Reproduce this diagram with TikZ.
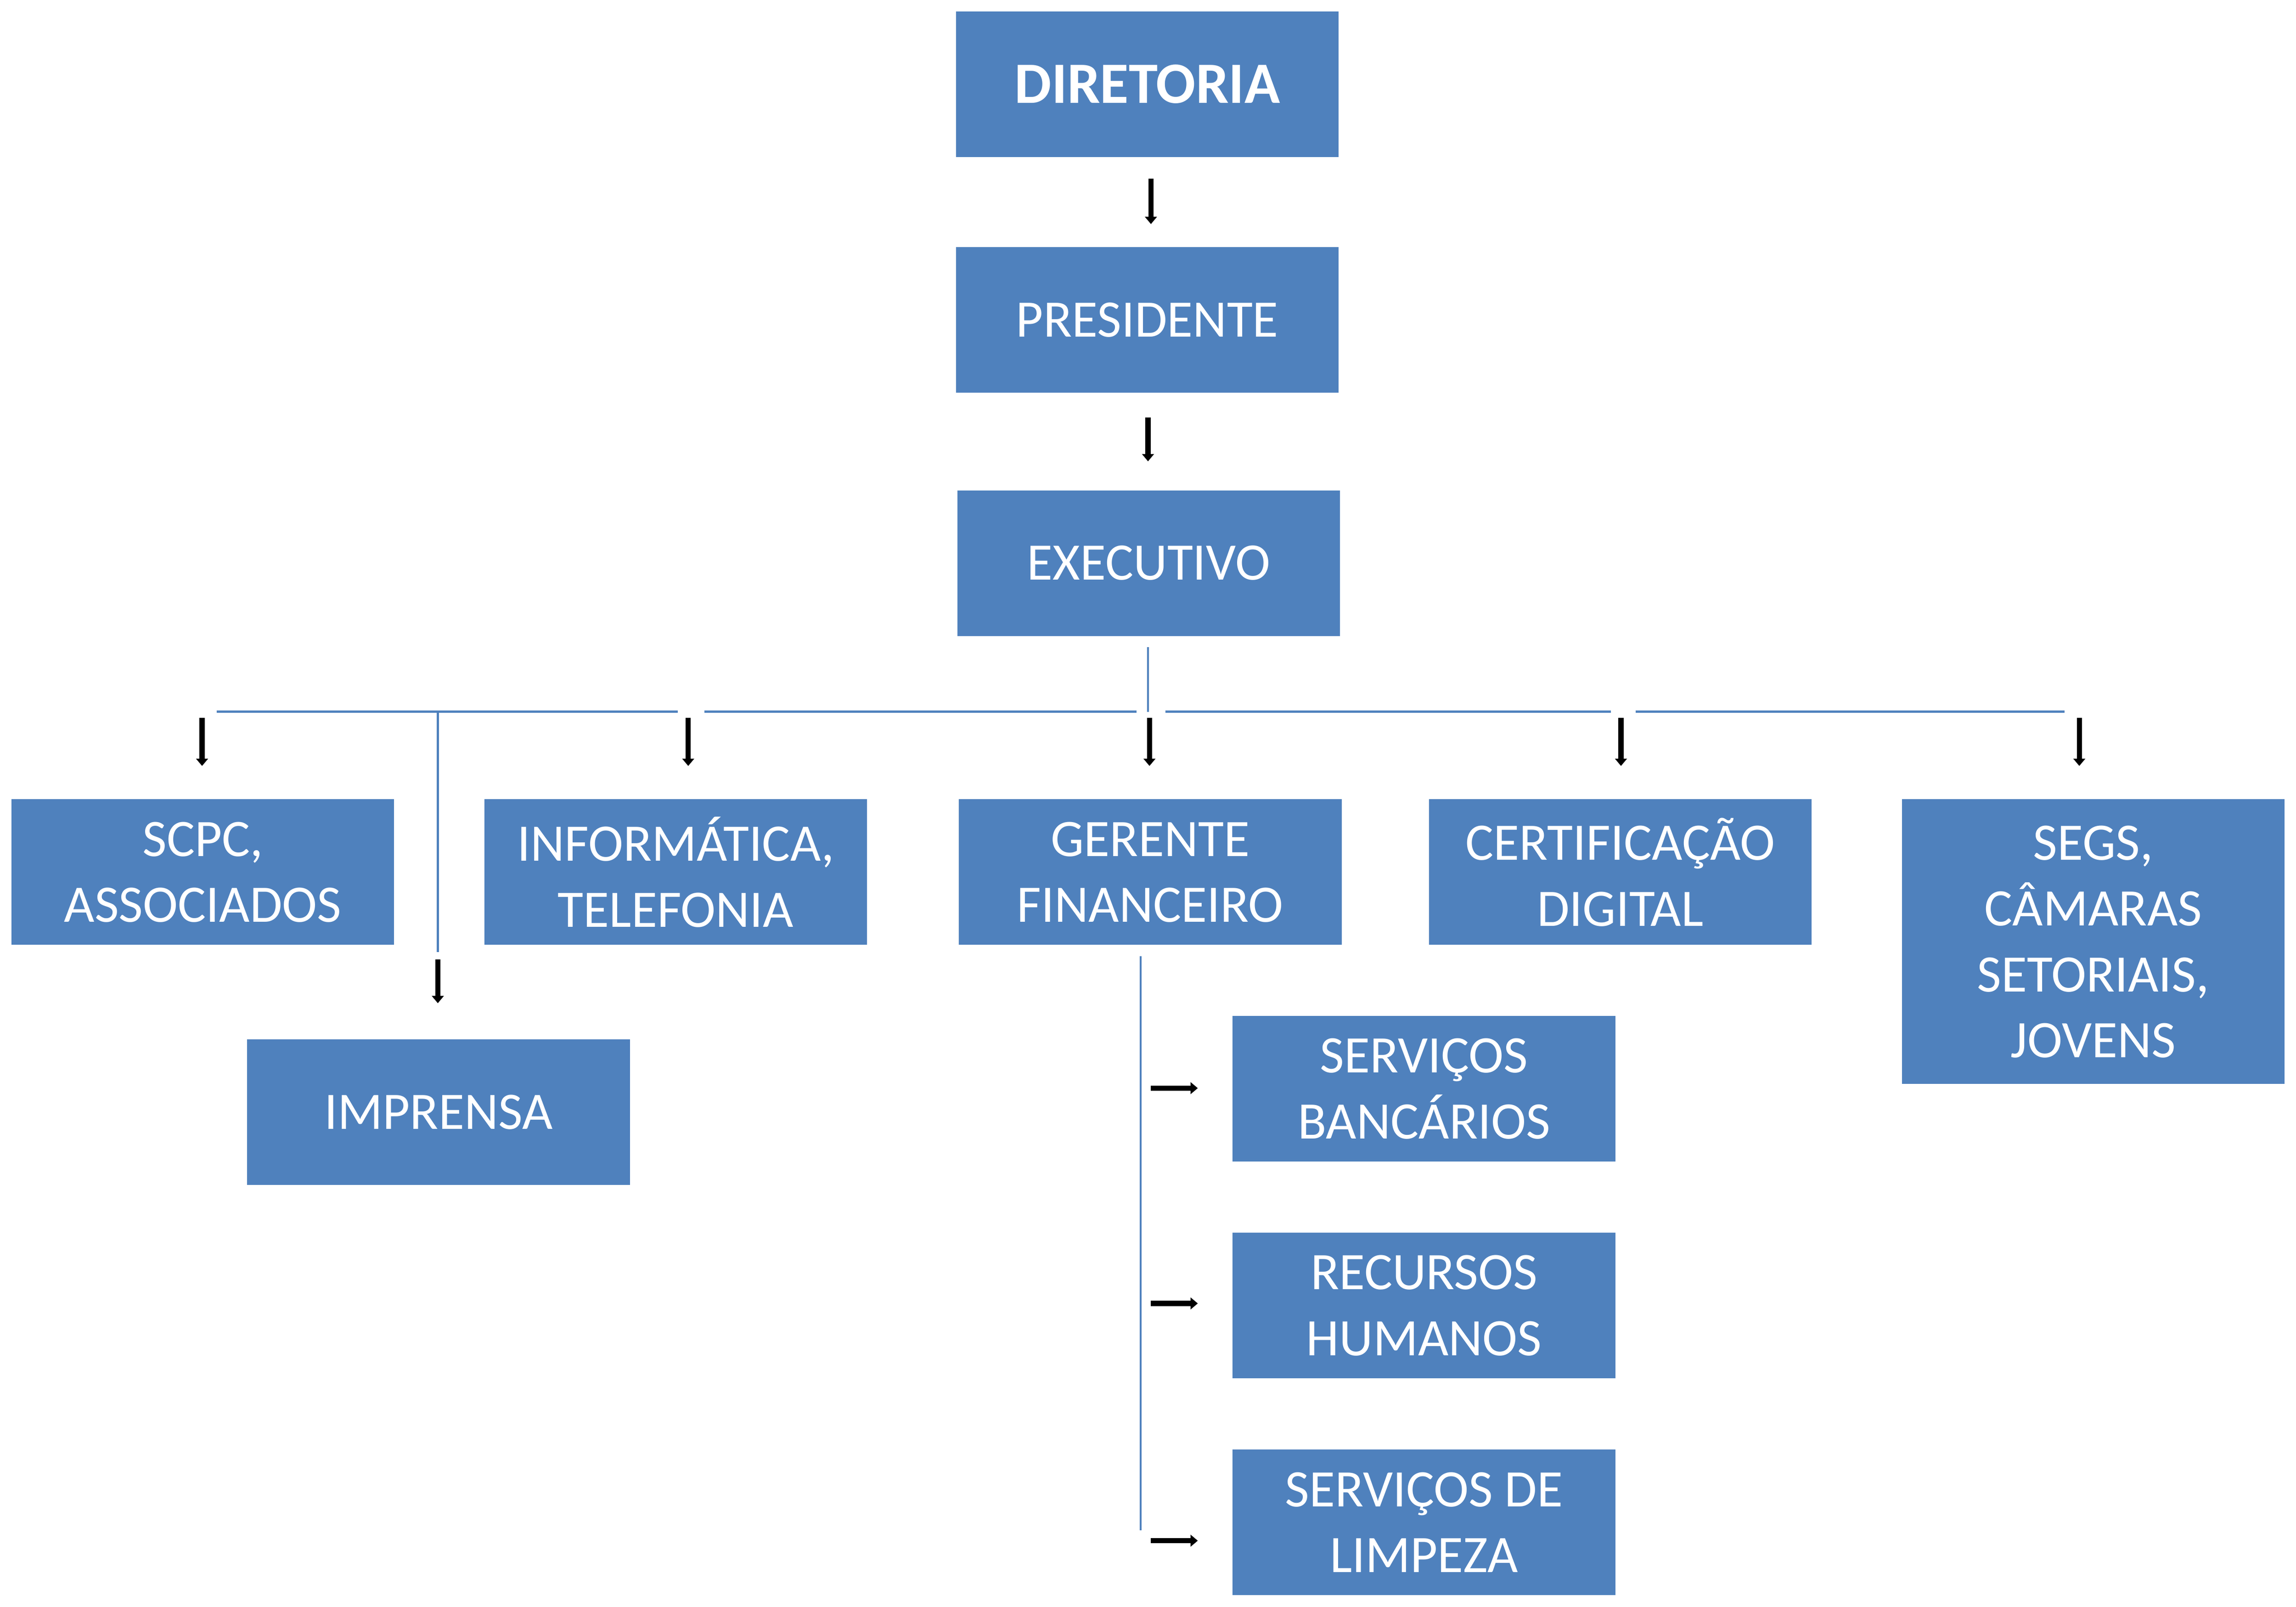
\documentclass[tikz,border=0pt]{standalone}
\usepackage{fontspec}
\setmainfont{Carlito}
\usetikzlibrary{arrows.meta,positioning}
\definecolor{boxblue}{RGB}{79,129,189}
\begin{document}
\begin{tikzpicture}[x=1pt,y=-1pt,
  box/.style={fill=boxblue,draw=boxblue,text=white,minimum width=261pt,minimum height=99pt,
    align=center,font=\fontsize{36}{45}\selectfont,inner sep=0pt},
  link/.style={draw=boxblue,line width=1.5pt},
  arr/.style={-{Triangle[length=5pt,width=8pt]},line width=3.5pt,black}]
  \useasboundingbox (0,0) rectangle (1568,1097);
  \node[box,font=\fontsize{40}{45}\selectfont\bfseries] (dir) at (783.5,57.5) {DIRETORIA};
  \node[box] (pres) at (783.5,218.5) {PRESIDENTE};
  \node[box] (exe) at (784.5,384.5) {EXECUTIVO};
  \node[box] (scpc) at (138.5,595.5) {SCPC,\\ASSOCIADOS};
  \node[box] (info) at (461.5,595.5) {INFORMÁTICA,\\TELEFONIA};
  \node[box] (ger) at (785.5,595.5) {GERENTE\\FINANCEIRO};
  \node[box] (cert) at (1106.5,595.5) {CERTIFICAÇÃO\\DIGITAL};
  \node[box,minimum height=194pt] (segs) at (1429.5,643) {SEGS,\\CÂMARAS\\SETORIAIS,\\JOVENS};
  \node[box] (impr) at (299.5,759.5) {IMPRENSA};
  \node[box] (banc) at (972.5,743.5) {SERVIÇOS\\BANCÁRIOS};
  \node[box] (rh) at (972.5,891.5) {RECURSOS\\HUMANOS};
  \node[box] (limp) at (972.5,1039.5) {SERVIÇOS DE\\LIMPEZA};
  % horizontal bar
  \coordinate (h0) at (148,486);
  \coordinate (h1) at (463,486);
  \coordinate (h2) at (481,486);
  \coordinate (h3) at (776,486);
  \coordinate (h4) at (796,486);
  \coordinate (h5) at (1100,486);
  \coordinate (h6) at (1117,486);
  \coordinate (h7) at (1410,486);
  \coordinate (top) at (784,442);
  \coordinate (mid) at (784,486);
  \coordinate (imp) at (299,486);
  \coordinate (impe) at (299,650);
  \coordinate (gtop) at (779,653);
  \coordinate (gbot) at (779,1045);
  \draw[link] (h0) -- (h1) (h2) -- (h3) (h4) -- (h5) (h6) -- (h7);
  \draw[link] (top) -- (mid);
  \draw[link] (imp) -- (impe);
  \draw[link] (gtop) -- (gbot);
  % arrows
  \draw[arr] (786,122) -- (786,153);
  \draw[arr] (784,285) -- (784,315);
  \foreach \x in {138,470,785,1107,1420}
    \draw[arr] (\x,490) -- (\x,523);
  \draw[arr] (299,655) -- (299,685);
  \foreach \y in {743,890,1052}
    \draw[arr] (786,\y) -- (818,\y);
\end{tikzpicture}
\end{document}
